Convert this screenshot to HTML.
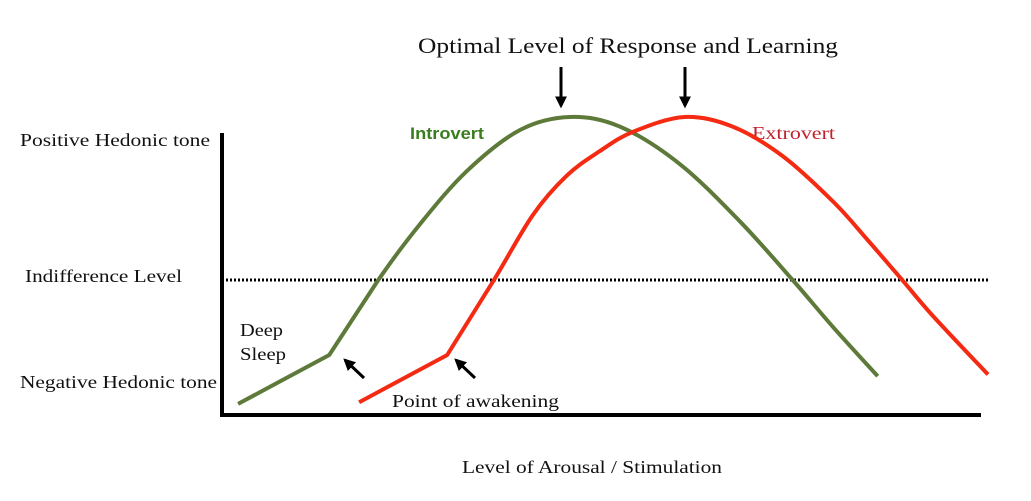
<!DOCTYPE html>
<html><head><meta charset="utf-8"><style>
html,body{margin:0;padding:0;background:#fff;width:1031px;height:501px;overflow:hidden}
text{font-family:"Liberation Serif",serif;fill:#111}
</style></head><body>
<svg id="chart" width="1031" height="501" viewBox="0 0 1031 501" xmlns="http://www.w3.org/2000/svg">
<defs><marker id="ah" viewBox="0 0 10 10" refX="8" refY="5" markerWidth="4" markerHeight="4" orient="auto"><path d="M0,0 L10,5 L0,10 z" fill="#000"/></marker></defs>
<text x="418" y="53" font-size="22" textLength="420" lengthAdjust="spacingAndGlyphs">Optimal Level of Response and Learning</text>
<line x1="222" y1="133" x2="222" y2="417" stroke="#000" stroke-width="4"/>
<line x1="220" y1="415" x2="981" y2="415" stroke="#000" stroke-width="4"/>
<line x1="226" y1="280" x2="988" y2="280" stroke="#000" stroke-width="3" stroke-dasharray="2,2"/>
<text x="20" y="146" font-size="18" textLength="190" lengthAdjust="spacingAndGlyphs">Positive Hedonic tone</text>
<text x="25" y="282" font-size="18" textLength="157" lengthAdjust="spacingAndGlyphs">Indifference Level</text>
<text x="20" y="388" font-size="18" textLength="197" lengthAdjust="spacingAndGlyphs">Negative Hedonic tone</text>
<text x="240" y="336" font-size="18" textLength="43" lengthAdjust="spacingAndGlyphs">Deep</text>
<text x="240" y="360" font-size="18" textLength="46" lengthAdjust="spacingAndGlyphs">Sleep</text>
<text x="392" y="407" font-size="18" textLength="167" lengthAdjust="spacingAndGlyphs">Point of awakening</text>
<text x="410" y="139" font-size="17" font-weight="bold" textLength="74" lengthAdjust="spacingAndGlyphs" style="font-family:'Liberation Sans',sans-serif;fill:#3a7d1e">Introvert</text>
<text x="752" y="139" font-size="18" textLength="83" lengthAdjust="spacingAndGlyphs" style="fill:#c0202a">Extrovert</text>
<text x="462" y="473" font-size="18" textLength="260" lengthAdjust="spacingAndGlyphs">Level of Arousal / Stimulation</text>
<line x1="561" y1="67" x2="561" y2="106" stroke="#000" stroke-width="3" marker-end="url(#ah)"/>
<line x1="685" y1="67" x2="685" y2="106" stroke="#000" stroke-width="3" marker-end="url(#ah)"/>
<line x1="364" y1="378" x2="345" y2="360" stroke="#000" stroke-width="3" marker-end="url(#ah)"/>
<line x1="475" y1="378" x2="456" y2="360" stroke="#000" stroke-width="3" marker-end="url(#ah)"/>
<g id="series"></g>
</svg>
<script>
const introX=[2.1,14.0,20.4,25.8,32.0,38.9,45.4,52.0,59.8,67.6,74.5,79.8,85.6];
const introY=[-0.76,-0.46,0,0.34,0.67,0.92,1.0,0.94,0.71,0.36,0,-0.29,-0.59];
const extroX=[17.9,29.4,35.5,40.6,45.0,49.3,53.7,60.4,66.7,73.2,79.8,84.2,88.8,92.8,100];
const extroY=[-0.75,-0.46,0,0.40,0.64,0.79,0.91,1.0,0.94,0.76,0.48,0.25,0,-0.22,-0.58];
function sx(v){return 222+v*7.66;}
function sy(v){return 280-v*163;}
function pathFor(xs,ys){
  const p=xs.map((x,i)=>[sx(x),sy(ys[i])]);
  let d='M'+p[0][0]+','+p[0][1]+' L'+p[1][0]+','+p[1][1]+' L'+p[2][0]+','+p[2][1];
  for(let i=2;i<p.length-1;i++){
    const p0=p[i-1],p1=p[i],p2=p[i+1],p3=p[Math.min(i+2,p.length-1)];
    const c1=[p1[0]+(p2[0]-p0[0])/6,p1[1]+(p2[1]-p0[1])/6];
    const c2=[p2[0]-(p3[0]-p1[0])/6,p2[1]-(p3[1]-p1[1])/6];
    d+=' C'+c1[0]+','+c1[1]+' '+c2[0]+','+c2[1]+' '+p2[0]+','+p2[1];
  }
  return d;
}
const g=document.getElementById('series');
function add(xs,ys,color,name){
  const el=document.createElementNS('http://www.w3.org/2000/svg','path');
  el.setAttribute('d',pathFor(xs,ys));
  el.setAttribute('fill','none');
  el.setAttribute('stroke',color);
  el.setAttribute('stroke-width','4');
  el.setAttribute('stroke-linejoin','round');
  
  
  g.appendChild(el);
}
add(introX,introY,'#5e7a3a','introvert-curve');
add(extroX,extroY,'#f42a12','extrovert-curve');
</script>
</body></html>
